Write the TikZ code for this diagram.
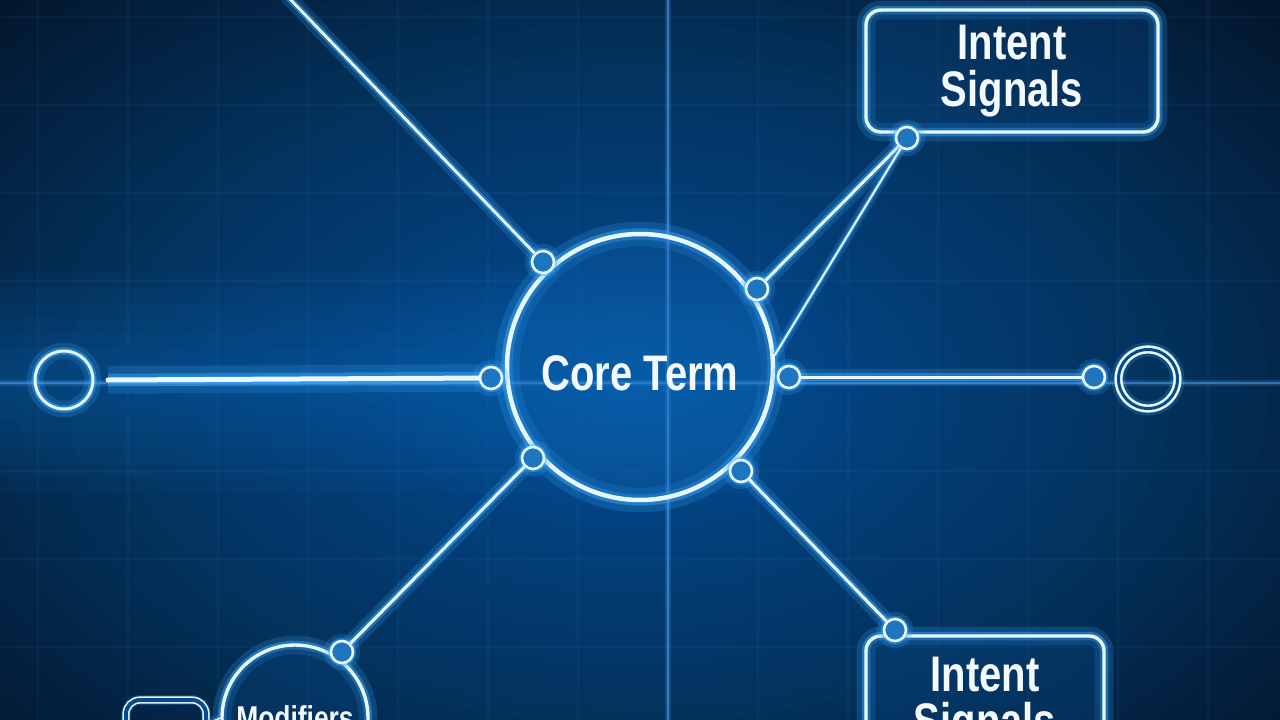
\documentclass[tikz,border=0pt]{standalone}
\usepackage{fontspec}
\newfontfamily\lblfont[FakeStretch=0.8]{Liberation Sans}
\definecolor{bgA}{RGB}{14,98,176}
\definecolor{bgB}{RGB}{9,74,138}
\definecolor{bgD}{RGB}{3,20,38}
\definecolor{glowbg}{RGB}{20,112,196}
\definecolor{glowc}{RGB}{60,170,255}
\definecolor{linec}{RGB}{232,248,255}
\definecolor{portc}{RGB}{30,118,192}
\definecolor{gridc}{RGB}{70,140,210}
\definecolor{flarec}{RGB}{90,170,255}
\definecolor{txtc}{RGB}{244,249,255}
\tikzset{
  glowline/.style={preaction={draw=glowc,line width=#1*5.5,opacity=.2},
                   preaction={draw=glowc,line width=#1*2.5,opacity=.45},
                   draw=linec,line width=#1},
  glowline/.default=3,
  portnode/.style={circle,glowline=2.6,fill=portc,minimum size=22pt,inner sep=0pt},
  boxnode/.style={rectangle,rounded corners=15pt,glowline=3.4,fill=bgB,fill opacity=.3,text opacity=1,
                  align=center,text=txtc,font=\lblfont\bfseries\fontsize{50}{47}\selectfont},
}
\begin{document}
\begin{tikzpicture}[x=1pt,y=-1pt]
\useasboundingbox (0,0) rectangle (1280,720);
\clip (0,0) rectangle (1280,720);
% background
\fill[bgD] (0,0) rectangle (1280,720);
\foreach \k in {60,59,...,1}{
  \pgfmathsetmacro{\rr}{920*(\k/60)^2}
  \fill[glowbg,opacity=.032] (630,388) ellipse [x radius=\rr, y radius=0.62*\rr];
}
\foreach \w in {220,190,...,10}
  \draw[glowbg,opacity=.06,line width=\w] (0,383) -- (760,383);
\foreach \gx in {38,128,218,308,398,488,578,758,848,938,1028,1118,1208}
  \draw[gridc,opacity=.07,line width=1.2] (\gx,0) -- (\gx,720);
\foreach \gy in {17,105,193,281,471,559,647}
  \draw[gridc,opacity=.07,line width=1.2] (0,\gy) -- (1280,\gy);
\draw[flarec,opacity=.2,line width=6] (668,0) -- (668,720);
\draw[flarec,opacity=.5,line width=1.6] (668,0) -- (668,720);
\draw[flarec,opacity=.45,line width=1.6] (0,383) -- (1280,383);
\draw[flarec,opacity=.2,line width=6] (0,383) -- (1280,383);

% nodes
\node[circle,glowline=4.5,fill=bgA,fill opacity=.3,minimum size=266pt,inner sep=0pt] (core) at (640,367) {};
\node[text=txtc,font=\lblfont\bfseries\fontsize{50}{50}\selectfont] (coretxt) at (640,373) {Core Term};

\node[boxnode,minimum width=292pt,minimum height=122pt] (sigtop) at (1012,71) {Intent\\Signals};
\node[boxnode,minimum width=238pt,minimum height=134pt] (sigbot) at (985,703) {Intent\\Signals};

\node[circle,glowline=3.4,fill=bgB,fill opacity=.3,text opacity=1,minimum size=146pt,inner sep=0pt,
      text=txtc,font=\lblfont\bfseries\fontsize{33}{33}\selectfont] (mod) at (295,718) {Modifiers};
\node[rectangle,rounded corners=14pt,draw=linec,line width=1.6pt,double=bgB,double distance=4pt,
      preaction={draw=glowc,line width=10pt,opacity=.2},minimum width=80pt,minimum height=48pt] (mini) at (166,724) {};

\node[circle,glowline=3,minimum size=58pt,inner sep=0pt] (leftc) at (64,380) {};
\node[circle,draw=linec,line width=2.6pt,double=bgB,double distance=3pt,
      preaction={draw=glowc,line width=14pt,opacity=.22},minimum size=59pt,inner sep=0pt] (rightc) at (1148,379) {};

% ports
\node[portnode] (ptl) at (543,262) {};
\node[portnode] (ptr) at (757,289) {};
\node[portnode] (pl) at (491,378) {};
\node[portnode] (pr) at (789,377) {};
\node[portnode] (pbl) at (533,458) {};
\node[portnode] (pbr) at (741,471) {};
\node[portnode] (psig) at (907,138) {};
\node[portnode] (pfar) at (1094,377) {};
\node[portnode] (pmod) at (342,652) {};
\node[portnode] (psig2) at (895,630) {};

\coordinate (tlend) at (287,-4);
\coordinate (lend) at (108,380);

% connectors
\draw[glowline=2.8] (ptl) -- (tlend);
\draw[glowline=3] (ptr) -- (psig);
\draw[glowline=2] (core.5) -- (psig);
\draw[glowline=5,line cap=round] (pl) -- (lend);
\draw[glowline=3] (pr) -- (pfar);
\draw[glowline=3] (pbl) -- (pmod);
\draw[glowline=3] (pbr) -- (psig2);
\draw[glowline=1.5] (mini.east) -- (mod.west);
\end{tikzpicture}
\end{document}
